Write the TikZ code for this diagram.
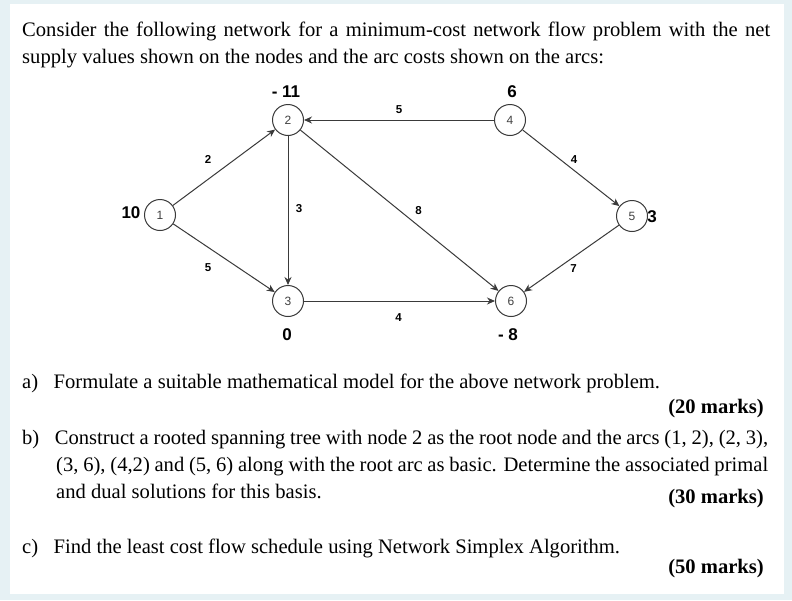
\documentclass[tikz,border=0pt]{standalone}
\usepackage{fontspec}
\setmainfont{Liberation Serif}
\newfontfamily\arialf{Liberation Sans}
\usetikzlibrary{arrows.meta}
\definecolor{frame}{HTML}{E6F1F4}
\definecolor{edgec}{HTML}{3A3A3A}
\tikzset{
  vtx/.style={circle, draw=edgec, line width=1pt, fill=white, minimum size=31pt, inner sep=0pt, text=black!75, font=\arialf\fontsize{12}{12}\selectfont},
  arc/.style={draw=edgec, line width=1pt, -{Stealth[length=8pt,width=7pt]}},
  sup/.style={font=\arialf\bfseries\fontsize{17}{17}\selectfont},
  cost/.style={font=\arialf\bfseries\fontsize{11.5}{11.5}\selectfont, inner sep=0pt},
  txt/.style={anchor=base west, inner sep=0pt, font=\fontsize{20.6}{20.6}\selectfont},
  mk/.style={anchor=base east, inner sep=0pt, font=\bfseries\fontsize{20.6}{20.6}\selectfont}
}
\begin{document}
\begin{tikzpicture}[x=1pt,y=-1pt]
\fill[frame] (0,0) rectangle (792,600);
\fill[white] (10,4) rectangle (784,594);
\useasboundingbox (0,0) rectangle (792,600);

\node[txt] (l1) at (22,36) {\hbox to 748pt{Consider the following network for a minimum-cost network flow problem with the net}};
\node[txt] (l2) at (22,63) {supply values shown on the nodes and the arc costs shown on the arcs:};

\node[vtx] (n1) at (160,215) {1};
\node[vtx] (n2) at (288,120) {2};
\node[vtx] (n4) at (510,120) {4};
\node[vtx] (n5) at (632,216) {5};
\node[vtx] (n3) at (288,301) {3};
\node[vtx] (n6) at (511,301) {6};

\node[sup] (s2) at (286,92) {- 11};
\node[sup] (s4) at (512,92) {6};
\node[sup] (s1) at (131,213) {10};
\node[sup] (s5) at (652,217) {3};
\node[sup] (s3) at (287,335) {0};
\node[sup] (s6) at (508,335) {- 8};

\draw[arc] (n1) -- (n2) node[cost, midway, xshift=-16pt, yshift=8pt] {2};
\draw[arc] (n4) -- (n2) node[cost, midway, xshift=0pt, yshift=10pt] {5};
\draw[arc] (n4) -- (n5) node[cost, midway, xshift=3pt, yshift=8pt] {4};
\draw[arc] (n2) -- (n3) node[cost, pos=0.5, xshift=11pt, yshift=2pt] {3};
\draw[arc] (n2) -- (n6) node[cost, midway, xshift=19pt, yshift=0pt] {8};
\draw[arc] (n1) -- (n3) node[cost, midway, xshift=-16pt, yshift=-10pt] {5};
\draw[arc] (n3) -- (n6) node[cost, midway, xshift=-1pt, yshift=-17pt] {4};
\draw[arc] (n5) -- (n6) node[cost, midway, xshift=2pt, yshift=-10pt] {7};

\node[txt] (qa) at (22,388) {a)\hspace{0.75em}Formulate a suitable mathematical model for the above network problem.};
\node[mk] (ma) at (764,413) {(20 marks)};
\node[txt] (qb1) at (22,444) {\hbox to 746pt{b)\hspace{0.75em}Construct a rooted spanning tree with node 2 as the root node and the arcs (1, 2), (2, 3),}};
\node[txt] (qb2) at (56,471) {\hbox to 712pt{(3, 6), (4,2) and (5, 6) along with the root arc as basic. Determine the associated primal}};
\node[txt] (qb3) at (56,498) {and dual solutions for this basis.};
\node[mk] (mb) at (764,503) {(30 marks)};
\node[txt] (qc) at (22,553) {c)\hspace{0.75em}Find the least cost flow schedule using Network Simplex Algorithm.};
\node[mk] (mc) at (764,573) {(50 marks)};
\end{tikzpicture}
\end{document}
